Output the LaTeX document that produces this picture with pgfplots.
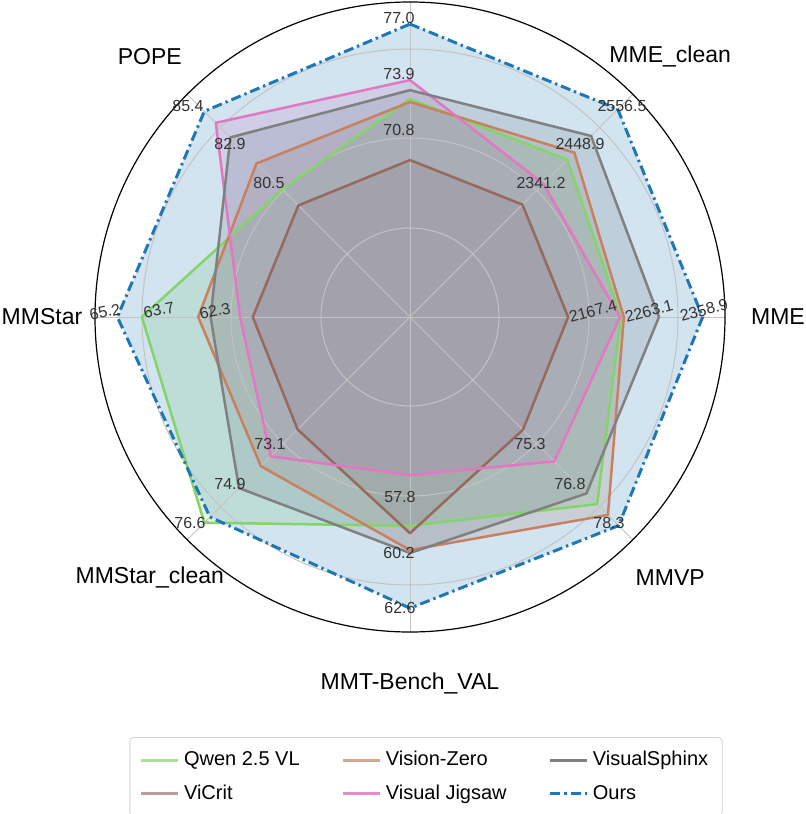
\documentclass[border=0pt]{standalone}
\usepackage{fontspec}
\setmainfont{Liberation Sans}
\usepackage{pgfplots}
\pgfplotsset{compat=1.18}
\definecolor{cqwen}{RGB}{132,212,106}
\definecolor{cvz}{RGB}{200,128,96}
\definecolor{csph}{RGB}{128,128,128}
\definecolor{cvic}{RGB}{150,105,95}
\definecolor{cjig}{RGB}{227,119,194}
\definecolor{cours}{RGB}{31,119,180}
\definecolor{gridc}{RGB}{195,195,195}
\pgfplotsset{
  fillstyle/.style={forget plot, data cs=polar, draw=none, fill=#1, fill opacity=0.2},
  linestyle/.style={forget plot, data cs=polar, draw=#1, line width=1.25pt, line join=round, mark=none},
}
\begin{document}
\begin{tikzpicture}
\path[use as bounding box] (-205pt,-248.5pt) rectangle (198pt,158.5pt);
\begin{axis}[
  anchor=origin, at={(0pt,0pt)},
  x=147.5pt, y=147.5pt,
  xmin=-1.0678, xmax=1.0678, ymin=-1.0678, ymax=1.0678,
  hide axis, clip=false,
  legend columns=3,
  legend image code/.code={\draw[#1] (0pt,0pt) -- (18.5pt,0pt);},
  legend style={at={(0.5254,-0.1667)}, anchor=north, draw=black!18, rounded corners=2pt,
    font=\fontsize{10}{12}\selectfont, cells={anchor=west},
    /tikz/every even column/.append style={column sep=19pt},
    row sep=4pt, inner xsep=5pt, inner ysep=5pt},
]
% fills (angle, normalised radius)
\addplot[fillstyle=cqwen] coordinates {(90,0.739) (45,0.754) (0,0.715) (-45,0.897) (-90,0.708) (-135,0.986) (180,0.909) (135,0.612) (90,0.739)};
\addplot[fillstyle=cvic] coordinates {(90,0.532) (45,0.539) (0,0.536) (-45,0.541) (-90,0.733) (-135,0.539) (180,0.533) (135,0.535) (90,0.532)};
\addplot[fillstyle=cvz] coordinates {(90,0.729) (45,0.788) (0,0.725) (-45,0.949) (-90,0.790) (-135,0.715) (180,0.718) (135,0.736) (90,0.729)};
\addplot[fillstyle=cjig] coordinates {(90,0.803) (45,0.639) (0,0.712) (-45,0.692) (-90,0.536) (-135,0.668) (180,0.576) (135,0.931) (90,0.803)};
\addplot[fillstyle=csph] coordinates {(90,0.769) (45,0.868) (0,0.844) (-45,0.846) (-90,0.800) (-135,0.820) (180,0.676) (135,0.861) (90,0.769)};
\addplot[fillstyle=cours] coordinates {(90,0.993) (45,0.996) (0,0.992) (-45,1.000) (-90,0.987) (-135,0.959) (180,0.992) (135,0.986) (90,0.993)};
% grid
\draw[gridc, line width=0.5pt] (axis cs:0,0) circle[radius=44.5pt];
\draw[gridc, line width=0.5pt] (axis cs:0,0) circle[radius=89.5pt];
\draw[gridc, line width=0.5pt] (axis cs:0,0) circle[radius=134pt];
\draw[gridc, line width=0.5pt] (axis cs:-1.0678,0) -- (axis cs:1.0678,0);
\draw[gridc, line width=0.5pt] (axis cs:0,-1.0678) -- (axis cs:0,1.0678);
\draw[gridc, line width=0.5pt] (axis cs:-0.7550,-0.7550) -- (axis cs:0.7550,0.7550);
\draw[gridc, line width=0.5pt] (axis cs:-0.7550,0.7550) -- (axis cs:0.7550,-0.7550);
\draw[black, line width=0.6pt] (axis cs:0,0) circle[radius=157.5pt];
% lines
\addplot[linestyle=cqwen] coordinates {(90,0.739) (45,0.754) (0,0.715) (-45,0.897) (-90,0.708) (-135,0.986) (180,0.909) (135,0.612) (90,0.739)};
\addplot[linestyle=cvic] coordinates {(90,0.532) (45,0.539) (0,0.536) (-45,0.541) (-90,0.733) (-135,0.539) (180,0.533) (135,0.535) (90,0.532)};
\addplot[linestyle=cvz] coordinates {(90,0.729) (45,0.788) (0,0.725) (-45,0.949) (-90,0.790) (-135,0.715) (180,0.718) (135,0.736) (90,0.729)};
\addplot[linestyle=cjig] coordinates {(90,0.803) (45,0.639) (0,0.712) (-45,0.692) (-90,0.536) (-135,0.668) (180,0.576) (135,0.931) (90,0.803)};
\addplot[linestyle=csph] coordinates {(90,0.769) (45,0.868) (0,0.844) (-45,0.846) (-90,0.800) (-135,0.820) (180,0.676) (135,0.861) (90,0.769)};
\addplot[linestyle=cours, line width=1.5pt, dash pattern=on 5pt off 2pt on 1.2pt off 2pt] coordinates {(90,0.993) (45,0.996) (0,0.992) (-45,1.000) (-90,0.987) (-135,0.959) (180,0.992) (135,0.986) (90,0.993)};
% legend
\addlegendimage{cqwen!70!white, line width=1.6pt}
\addlegendentry{Qwen 2.5 VL}
\addlegendimage{cvz!70!white, line width=1.6pt}
\addlegendentry{Vision-Zero}
\addlegendimage{csph, line width=1.6pt}
\addlegendentry{VisualSphinx}
\addlegendimage{cvic!65!white, line width=1.6pt}
\addlegendentry{ViCrit}
\addlegendimage{cjig!85!white, line width=1.6pt}
\addlegendentry{Visual Jigsaw}
\addlegendimage{cours, line width=1.6pt, dash pattern=on 5pt off 2pt on 1.2pt off 2pt}
\addlegendentry{Ours}
\end{axis}
% radial value labels
\begin{scope}[every node/.style={font=\fontsize{8}{9}\selectfont, text=black!80, inner sep=0pt}]
\node at (-5.5pt,149.5pt) {77.0};
\node at (-5.5pt,121.5pt) {73.9};
\node at (-5.5pt,93.5pt) {70.8};
\node at (-111pt,105.5pt) {85.4};
\node at (-90pt,86.5pt) {82.9};
\node at (-70.5pt,67pt) {80.5};
\node at (106pt,105.5pt) {2556.5};
\node at (85pt,86.5pt) {2448.9};
\node at (65.5pt,67pt) {2341.2};
\node[rotate=15] at (91.5pt,3pt) {2167.4};
\node[rotate=15] at (119.5pt,3pt) {2263.1};
\node[rotate=15] at (147pt,3.5pt) {2358.9};
\node[rotate=12] at (-152.5pt,2.5pt) {65.2};
\node[rotate=12] at (-125.5pt,3.5pt) {63.7};
\node[rotate=12] at (-97.5pt,3pt) {62.3};
\node at (-110pt,-103pt) {76.6};
\node at (-90pt,-83.5pt) {74.9};
\node at (-70pt,-63.5pt) {73.1};
\node at (-5pt,-145.5pt) {62.6};
\node at (-5.5pt,-118pt) {60.2};
\node at (-5pt,-90pt) {57.8};
\node at (99.5pt,-103pt) {78.3};
\node at (80pt,-83.5pt) {76.8};
\node at (60pt,-63.5pt) {75.3};
\end{scope}
% category labels
\begin{scope}[every node/.style={font=\fontsize{11.5}{13}\selectfont, text=black}]
\node at (184pt,0pt) {MME};
\node at (130.1pt,130.1pt) {MME\_clean};
\node at (-130.1pt,130.1pt) {POPE};
\node at (-184pt,0pt) {MMStar};
\node at (-130.1pt,-130.1pt) {MMStar\_clean};
\node at (130.1pt,-130.1pt) {MMVP};
\node at (0pt,-183pt) {MMT-Bench\_VAL};
\end{scope}
\end{tikzpicture}
\end{document}
